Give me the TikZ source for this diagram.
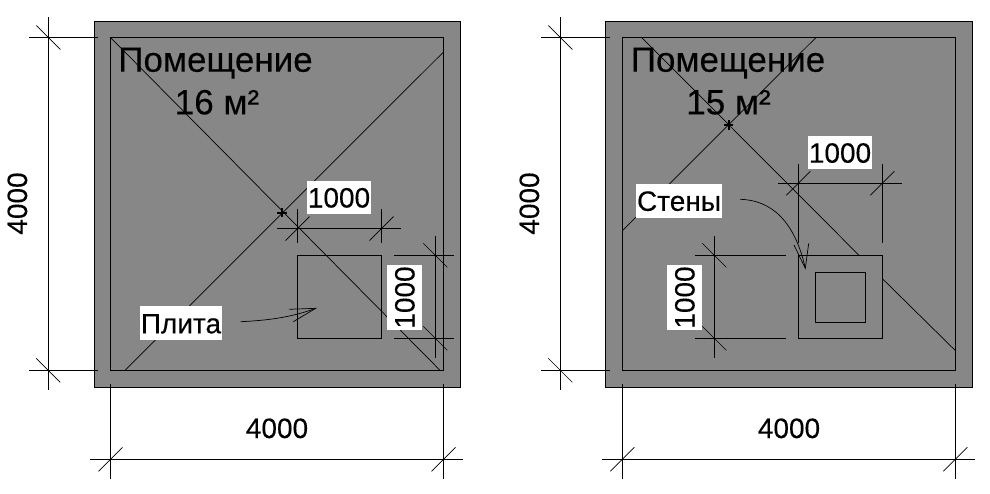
\documentclass[tikz,border=0pt]{standalone}
\usepackage{fontspec}
\setmainfont{Liberation Sans}
\definecolor{wallgray}{HTML}{878787}
\tikzset{
  x=1pt,y=-1pt,
  wall/.style={draw=black,line width=1pt,fill=wallgray},
  ln/.style={draw=black,line width=1pt},
  thin ln/.style={draw=black,line width=0.7pt},
  txt/.style={font=\addfontfeature{FakeBold=0.25}\fontsize{28}{28}\selectfont,inner sep=0pt,text=black,anchor=base},
  bigtxt/.style={font=\addfontfeature{FakeBold=0.25}\fontsize{35}{35}\selectfont,inner sep=0pt,text=black,anchor=base},
  lab/.style={fill=white,inner sep=0pt},
}
\newcommand{\slashtick}[2]{\draw[thin ln] (#1-12,#2+12) -- (#1+12,#2-12);}
\newcommand{\backtick}[2]{\draw[thin ln] (#1-12,#2-12) -- (#1+12,#2+12);}
\newcommand{\crossmark}[2]{\draw[black,line width=2pt] (#1-4.7,#2) -- (#1+4.7,#2) (#1,#2-4.7) -- (#1,#2+4.7);}
\begin{document}
\begin{tikzpicture}
\useasboundingbox (0,0) rectangle (990,493);
% ---------- left panel
\path[wall] (94.5,21.5) rectangle (460.5,387);
\draw[ln] (110.5,37.5) rectangle (443.5,370.3);
\draw[thin ln] (110.5,37.5) -- (440,370.3);
\draw[thin ln] (443.5,52) -- (125,370.3);
\crossmark{282}{212.7}
% left dimension
\draw[ln] (48.3,17) -- (48.3,389.7);
\draw[ln] (29,37.5) -- (98,37.5);
\draw[ln] (29,370.3) -- (98,370.3);
\backtick{48.3}{37.5}
\backtick{48.3}{370.3}
\node[txt,rotate=90] (lA) at (27,203.5) {4000};
% bottom dimension
\draw[ln] (90,459.3) -- (463,459.3);
\draw[ln] (110.5,384) -- (110.5,478.7);
\draw[ln] (443.5,384) -- (443.5,478.7);
\slashtick{110.5}{459.3}
\slashtick{443.5}{459.3}
\node[txt] (lB) at (277,438) {4000};
% slab
\draw[ln] (297.5,255.3) rectangle (381.5,338.3);
% slab width dimension
\draw[ln] (277,228.5) -- (401,228.5);
\draw[ln] (297.5,209) -- (297.5,243);
\draw[ln] (381.5,209) -- (381.5,243);
\slashtick{297.5}{228.5}
\slashtick{381.5}{228.5}
% slab height dimension
\draw[ln] (435.3,236) -- (435.3,358);
\draw[ln] (394,255.3) -- (454,255.3);
\draw[ln] (394,338.3) -- (454,338.3);
\backtick{435.3}{255.3}
\backtick{435.3}{338.3}
\node[lab,minimum width=64pt,minimum height=33pt] (lC) at (339,197.3) {};
\node[txt] (lCt) at (339,207.5) {1000};
\node[lab,minimum width=35pt,minimum height=65pt] (lD) at (404.5,297.5) {};
\node[txt,rotate=90] (lDt) at (414.5,297.5) {1000};
\node[bigtxt] (lE) at (215.5,71.7) {Помещение};
\node[bigtxt] (lF) at (217,114.3) {16 м²};
\node[lab,minimum width=82pt,minimum height=34pt] (lG) at (181,323) {};
\node[txt] (lH) at (181,333.3) {Плита};
\coordinate (pa) at (240.7,321.7);
\coordinate (pb) at (315.7,308.3);
\draw[thin ln] (pa) .. controls (265,320.5) and (290,318) .. (pb);
\draw[thin ln] (289.3,309.3) -- (pb) -- (293.3,321.7);
% ---------- right panel
\path[wall] (605.3,21.5) rectangle (972.7,387);
\draw[ln] (622.4,37.5) rectangle (955.6,370.3);
\draw[thin ln] (641.7,37.5) -- (859,255.3);
\draw[thin ln] (882.7,279) -- (955.5,350.7);
\draw[thin ln] (816,37.5) -- (622.5,230.7);
\crossmark{728.7}{125}
% left dimension
\draw[ln] (560.3,17) -- (560.3,389.7);
\draw[ln] (541,37.5) -- (610,37.5);
\draw[ln] (541,370.3) -- (610,370.3);
\backtick{560.3}{37.5}
\backtick{560.3}{370.3}
\node[txt,rotate=90] (rA) at (539,203.5) {4000};
% bottom dimension
\draw[ln] (602,459.3) -- (975,459.3);
\draw[ln] (622.4,384) -- (622.4,478.7);
\draw[ln] (955.4,384) -- (955.4,478.7);
\slashtick{622.4}{459.3}
\slashtick{955.4}{459.3}
\node[txt] (rB) at (789,438) {4000};
% walls
\draw[ln] (798.3,255.3) rectangle (882.3,338.3);
\draw[ln] (815.3,272.3) rectangle (865.7,322.3);
% width dimension
\draw[ln] (778,183.3) -- (902,183.3);
\draw[ln] (798.3,164) -- (798.3,242.7);
\draw[ln] (882.3,164) -- (882.3,242.7);
\slashtick{798.3}{183.3}
\slashtick{882.3}{183.3}
% height dimension
\draw[ln] (714.3,236) -- (714.3,358);
\draw[ln] (695,255.3) -- (786,255.3);
\draw[ln] (695,338.3) -- (786,338.3);
\backtick{714.3}{255.3}
\backtick{714.3}{338.3}
\node[lab,minimum width=64pt,minimum height=33pt] (rC) at (840,152.5) {};
\node[txt] (rCt) at (840,162.7) {1000};
\node[lab,minimum width=35pt,minimum height=65pt] (rD) at (684.5,297.5) {};
\node[txt,rotate=90] (rDt) at (694.5,297.5) {1000};
\node[bigtxt] (rE) at (728,71.7) {Помещение};
\node[bigtxt] (rF) at (728.5,114.3) {15 м²};
\node[lab,minimum width=86pt,minimum height=33.7pt] (rG) at (679,200.8) {};
\node[txt] (rH) at (679,210.8) {Стены};
\coordinate (sa) at (740,199.3);
\coordinate (sb) at (805.3,268.3);
\draw[thin ln] (sa) .. controls (772,200) and (795,222) .. (sb);
\draw[thin ln] (794,245) -- (sb) -- (808.7,243.3);
\end{tikzpicture}
\end{document}
